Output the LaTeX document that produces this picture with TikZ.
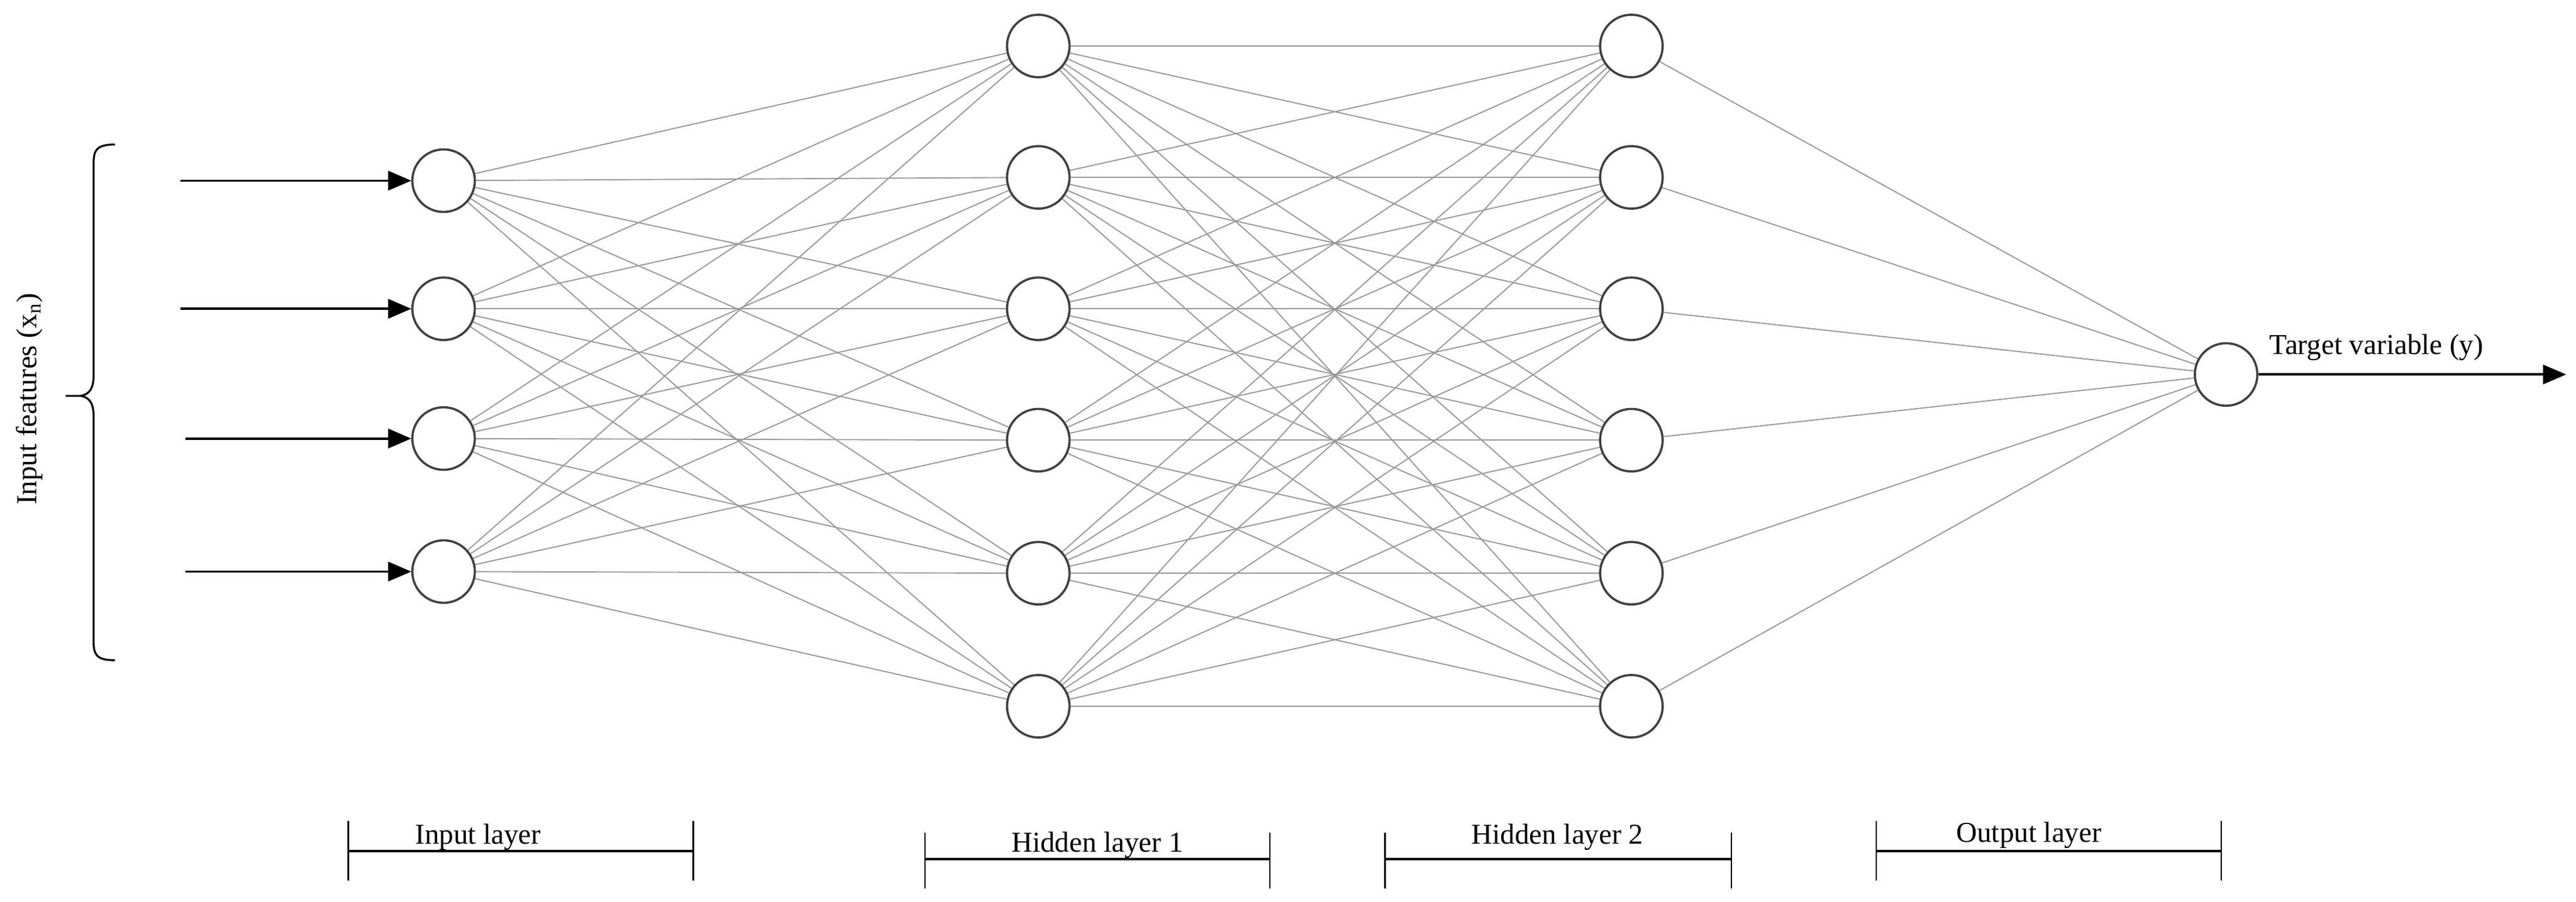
\documentclass[tikz,border=0pt]{standalone}
\usepackage{fontspec}
\setmainfont{Liberation Serif}
\usetikzlibrary{arrows.meta}
\begin{document}
\begin{tikzpicture}[x=0.03cm,y=-0.03cm,
  neuron/.style={circle,draw=black!75,line width=1.1pt,fill=white,minimum size=1.14cm,inner sep=0pt},
  wire/.style={draw=black!40,line width=0.6pt},
  inarrow/.style={draw=black,line width=1.2pt,-{Triangle[length=12pt,width=10pt]}},
  bar/.style={draw=black,line width=1.3pt},
  tick/.style={draw=black,line width=0.7pt},
  lbl/.style={font=\fontsize{15}{17}\selectfont,inner sep=1pt}]
\useasboundingbox (0,0) rectangle (1568,549);
% nodes
\foreach \i/\y in {1/110,2/188,3/267,4/348} \node[neuron] (i\i) at (270,\y) {};
\foreach \i/\y in {1/28,2/108,3/188,4/268,5/349,6/430} {
  \node[neuron] (a\i) at (632,\y) {};
  \node[neuron] (b\i) at (993,\y) {};
}
\node[neuron] (o) at (1355,228) {};
% wires
\foreach \i in {1,...,4} \foreach \j in {1,...,6} \draw[wire] (i\i) -- (a\j);
\foreach \i in {1,...,6} \foreach \j in {1,...,6} \draw[wire] (a\i) -- (b\j);
\foreach \i in {1,...,6} \draw[wire] (b\i) -- (o);
% redraw nodes on top
\foreach \i/\y in {1/110,2/188,3/267,4/348} \node[neuron] at (270,\y) {};
\foreach \i/\y in {1/28,2/108,3/188,4/268,5/349,6/430} {
  \node[neuron] at (632,\y) {};
  \node[neuron] at (993,\y) {};
}
\node[neuron] at (1355,228) {};
% input arrows
\foreach \i/\y/\x in {1/110/110,2/188/110,3/267/113,4/348/113} {
  \coordinate (s\i) at (\x,\y);
  \draw[inarrow] (s\i) -- (i\i.west);
}
% output arrow
\coordinate (oe) at (1562,228);
\draw[inarrow] (o.east) -- (oe);
\node[lbl,anchor=south west] (tv) at (1380,221) {Target variable (y)};
% brace
\draw[line width=1pt] (70,88) .. controls (58,88) and (57,92) .. (57,100) -- (57,228) .. controls (57,236) and (55,240) .. (49,241) -- (40,241);
\draw[line width=1pt] (70,402) .. controls (58,402) and (57,398) .. (57,390) -- (57,254) .. controls (57,246) and (55,242) .. (49,241);
\node[lbl,rotate=90] (feat) at (18,243) {Input features (x\textsubscript{n})};
% layer bars
\foreach \n/\xa/\xb/\yy/\t/\lab in {L1/212/422/518/18/Input layer,L2/563/773/523/16/Hidden layer 1,L3/843/1054/523/16/Hidden layer 2,L4/1142/1352/518/18/Output layer} {
  \coordinate (\n a) at (\xa,\yy);
  \coordinate (\n b) at (\xb,\yy);
  \draw[bar] (\n a) -- (\n b);
  \draw[tick] (\xa,\yy-\t) -- (\xa,\yy+18);
  \draw[tick] (\xb,\yy-\t) -- (\xb,\yy+18);
}
\node[lbl,anchor=south] (t1) at (291,519) {Input layer};
\node[lbl,anchor=south] (t2) at (668,524) {Hidden layer 1};
\node[lbl,anchor=south] (t3) at (948,519) {Hidden layer 2};
\node[lbl,anchor=south] (t4) at (1235,518) {Output layer};
\end{tikzpicture}
\end{document}
